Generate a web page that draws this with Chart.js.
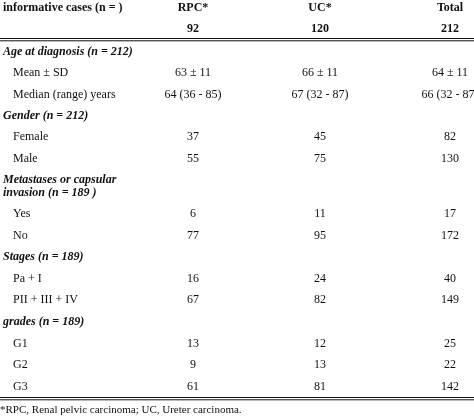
<!DOCTYPE html>
<html><head><meta charset="utf-8">
<script src="https://cdn.jsdelivr.net/npm/chart.js"></script>
<style>html,body{margin:0;padding:0;background:#fff}#w{width:474px;height:417px}</style>
</head><body><div id="w"><canvas id="c"></canvas></div>
<script>
const columns = ["RPC*", "UC*", "Total"];
const totals = ["92", "120", "212"];
const rowLabels = ["Age at diagnosis (n = 212)", "Mean ± SD", "Median (range) years", "Gender (n = 212)", "Female", "Male", "Metastases or capsular|invasion (n = 189 )", "Yes", "No", "Stages (n = 189)", "Pa + I", "PII + III + IV", "grades (n = 189)", "G1", "G2", "G3"];
const rowIsGroup = [1,0,0,1,0,0,1,0,0,1,0,0,1,0,0,0];
const rpc = ["", "63 ± 11", "64 (36 - 85)", "", "37", "55", "", "6", "77", "", "16", "67", "", "13", "9", "61"];
const uc = ["", "66 ± 11", "67 (32 - 87)", "", "45", "75", "", "11", "95", "", "24", "82", "", "12", "13", "81"];
const total = ["", "64 ± 11", "66 (32 - 87)", "", "82", "130", "", "17", "172", "", "40", "149", "", "25", "22", "142"];
const rowY = [52, 73, 95, 116, 137, 159, 180, 214, 236, 257, 279, 300, 322, 344, 365, 387];
const colX = [193, 320, 450];
const footnote = "*RPC, Renal pelvic carcinoma; UC, Ureter carcinoma.";

const F = '"Liberation Serif","Times New Roman",serif';
const tablePlugin = {
  id: 'table',
  afterDraw(chart) {
    const ctx = chart.ctx, xs = chart.scales.x, ys = chart.scales.y;
    const X = v => xs.getPixelForValue(v), Y = v => ys.getPixelForValue(v);
    ctx.save();
    ctx.fillStyle = '#111'; ctx.textBaseline = 'middle';
    ctx.font = 'bold 12px ' + F; ctx.textAlign = 'left';
    ctx.fillText('informative cases (n = )', X(3), Y(8));
    ctx.textAlign = 'center';
    columns.forEach((c, i) => ctx.fillText(c, X(colX[i]), Y(8)));
    totals.forEach((c, i) => ctx.fillText(c, X(colX[i]), Y(29)));
    ctx.strokeStyle = '#111'; ctx.lineWidth = 1;
    [38.5, 40.8, 397.5, 399.8].forEach(v => { ctx.beginPath(); ctx.moveTo(X(0), Y(v)); ctx.lineTo(X(474), Y(v)); ctx.stroke(); });
    rowLabels.forEach((l, r) => {
      ctx.textAlign = 'left';
      if (rowIsGroup[r]) {
        ctx.font = 'italic bold 12px ' + F;
        l.split('|').forEach((p, k) => ctx.fillText(p, X(3), Y(rowY[r] + k * 13)));
      } else {
        ctx.font = '12px ' + F;
        ctx.fillText(l, X(13), Y(rowY[r]));
        ctx.textAlign = 'center';
        [rpc, uc, total].forEach((arr, i) => ctx.fillText(arr[r], X(colX[i]), Y(rowY[r])));
      }
    });
    ctx.font = '11px ' + F; ctx.textAlign = 'left';
    ctx.fillText(footnote, X(0), Y(410));
    ctx.restore();
  }
};
new Chart(document.getElementById('c'), {
  type: 'scatter',
  data: { datasets: [{ data: [] }] },
  options: {
    responsive: true, maintainAspectRatio: false, animation: false,
    layout: { padding: 0 },
    plugins: { legend: { display: false }, tooltip: { enabled: false } },
    scales: {
      x: { type: 'linear', min: 0, max: 474, display: false },
      y: { type: 'linear', min: 0, max: 417, reverse: true, display: false }
    }
  },
  plugins: [tablePlugin]
});
</script></body></html>
